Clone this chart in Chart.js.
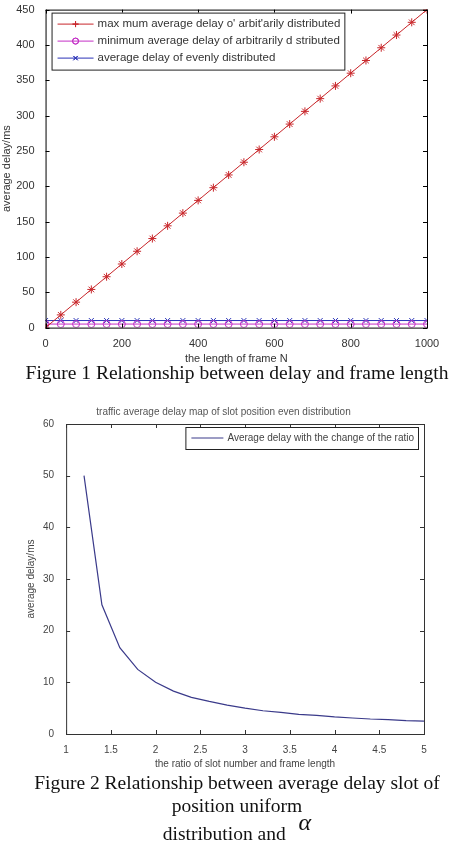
<!DOCTYPE html><html><head><meta charset="utf-8">
<script src="https://cdn.jsdelivr.net/npm/chart.js@4"></script>
<style>
body{margin:0;background:#fff;width:474px;height:848px;position:relative;overflow:hidden}
canvas{position:absolute;left:0}
.cap{position:absolute;left:0;width:474px;text-align:center;font-family:"Liberation Serif",serif;font-size:19.5px;color:#111;line-height:23px}
</style></head><body>
<canvas id="c1" style="top:0"></canvas>
<div class="cap" style="top:361px;white-space:nowrap">Figure 1 Relationship between delay and frame length</div>
<canvas id="c2" style="top:398px"></canvas>
<div class="cap" style="top:771px">Figure 2 Relationship between average delay slot of<br>position uniform<br><span style="position:relative;top:4px">distribution and <i style="position:relative;top:-10px;font-size:24px;margin-left:8px">α</i></span></div>
<script>
const frameN=[0,40,80,120,160,200,240,280,320,360,400,440,480,520,560,600,640,680,720,760,800,840,880,920,960,1000];
const maxDelay=[0,18,36,54,72,90,108,126,144,162,180,198,216,234,252,270,288,306,324,342,360,378,396,414,432,450];
const minDelay=[5,5,5,5,5,5,5,5,5,5,5,5,5,5,5,5,5,5,5,5,5,5,5,5,5,5];
const evenDelay=[10,10,10,10,10,10,10,10,10,10,10,10,10,10,10,10,10,10,10,10,10,10,10,10,10,10];
const ratio=[1.2,1.4,1.6,1.8,2.0,2.2,2.4,2.6,2.8,3.0,3.2,3.4,3.6,3.8,4.0,4.2,4.4,4.6,4.8,5.0];
const ratioDelay=[50,25,16.7,12.5,10,8.3,7.1,6.3,5.6,5.0,4.5,4.2,3.8,3.6,3.3,3.1,2.9,2.8,2.6,2.5];
const seriesLabels1=["max mum average delay o' arbit'arily distributed","minimum average delay of arbitrarily d stributed","average delay of evenly distributed"];
const seriesLabel2="Average delay with the change of the ratio";
const F="'Liberation Sans', Arial, sans-serif";
const plainTick=v=>String(v);

const boxPlugin={id:'box',afterDraw(ch,a,o){
  const c=ch.ctx,A=ch.chartArea;c.save();c.strokeStyle=o.color||'#000';c.lineWidth=1;
  c.strokeRect(A.left+.5,A.top+.5,A.right-A.left,A.bottom-A.top);
  const x=ch.scales.x,y=ch.scales.y;
  x.ticks.forEach((t,i)=>{const p=Math.round(x.getPixelForTick(i))+.5;c.beginPath();c.moveTo(p,A.bottom);c.lineTo(p,A.bottom-4);c.moveTo(p,A.top);c.lineTo(p,A.top+4);c.stroke();});
  y.ticks.forEach((t,i)=>{const p=Math.round(y.getPixelForTick(i))+.5;c.beginPath();c.moveTo(A.left,p);c.lineTo(A.left+4,p);c.moveTo(A.right,p);c.lineTo(A.right-4,p);c.stroke();});
  const L=o.legend;if(L){c.font=L.font;const ds=ch.data.datasets;let w=0;ds.forEach(d=>w=Math.max(w,c.measureText(d.label).width));
    const bw=w+L.line+14,bh=ds.length*L.row+6;const bx=L.right?A.right-L.dx-bw:A.left+L.dx,by=A.top+L.dy;
    c.fillStyle='#fff';c.fillRect(bx,by,bw,bh);c.strokeStyle='#222';c.strokeRect(bx+.5,by+.5,bw,bh);
    ds.forEach((d,i)=>{const yy=by+3+L.row*(i+.5);c.strokeStyle=d.borderColor;c.lineWidth=1;c.beginPath();c.moveTo(bx+6,yy);c.lineTo(bx+6+L.line,yy);c.stroke();
      if(d.pointRadius>0){c.fillStyle='rgba(0,0,0,0)';c.strokeStyle=d.borderColor;Chart.helpers.drawPoint(c,{pointStyle:d.legendStyle||d.pointStyle,radius:3,borderWidth:1},bx+6+L.line/2,yy);c.stroke();}
      c.fillStyle=L.color;c.textBaseline='middle';c.fillText(d.label,bx+10+L.line,yy);});}
  c.restore();}};

function mkCanvas(id,w,h){const cv=document.getElementById(id);cv.width=w;cv.height=h;cv.style.width=w+'px';cv.style.height=h+'px';return cv;}

new Chart(mkCanvas('c1',474,366),{type:'line',
 data:{labels:frameN,datasets:[
  {label:seriesLabels1[0],data:maxDelay,borderColor:'#c8262a',pointStyle:'star',legendStyle:'cross',pointRadius:4,pointBorderColor:'#c8262a',borderWidth:1},
  {label:seriesLabels1[1],data:minDelay,borderColor:'#c42fc6',pointStyle:'circle',pointRadius:3.5,pointBorderColor:'#c42fc6',pointBackgroundColor:'rgba(0,0,0,0)',backgroundColor:'rgba(0,0,0,0)',borderWidth:1},
  {label:seriesLabels1[2],data:evenDelay,borderColor:'#2a32b8',pointStyle:'crossRot',pointRadius:3.5,pointBorderColor:'#2a32b8',borderWidth:1}]},
 options:{responsive:false,animation:false,layout:{padding:{top:5,right:47,left:0,bottom:0}},
  plugins:{legend:{display:false},tooltip:{enabled:false},box:{legend:{font:"11.5px "+F,line:36,row:17,dx:6,dy:3,color:'#333'}}},
  scales:{x:{type:'linear',min:0,max:1000,ticks:{stepSize:200,callback:plainTick,color:'#333',font:{family:F,size:11},padding:2,maxRotation:0},grid:{display:false},border:{display:false},
     title:{display:true,text:'the length of frame N',color:'#333',font:{family:F,size:11},padding:0}},
   y:{min:0,max:450,ticks:{stepSize:50,callback:plainTick,color:'#333',font:{family:F,size:11},padding:3},grid:{display:false},border:{display:false},
     title:{display:true,text:'average delay/ms',color:'#333',font:{family:F,size:11},padding:0}}}},
 plugins:[boxPlugin]});

new Chart(mkCanvas('c2',474,372),{type:'line',
 data:{labels:ratio,datasets:[{label:seriesLabel2,data:ratioDelay,borderColor:'#3a3a8a',pointRadius:0,borderWidth:1.2}]},
 options:{responsive:false,animation:false,layout:{padding:{top:0,right:50,left:23,bottom:0}},
  plugins:{legend:{display:false},tooltip:{enabled:false},
   title:{display:true,text:'traffic average delay map of slot position even distribution',color:'#555',font:{family:F,size:10,weight:'normal'},padding:{top:8,bottom:6}},
   box:{color:'#333',legend:{font:"10px "+F,line:32,row:16,dx:6,dy:3,right:true,color:'#444'}}},
  scales:{x:{type:'linear',min:1,max:5,ticks:{stepSize:0.5,callback:plainTick,color:'#444',font:{family:F,size:10},padding:2,maxRotation:0},grid:{display:false},border:{display:false},
     title:{display:true,text:'the ratio of slot number and frame length',color:'#444',font:{family:F,size:10},padding:0}},
   y:{min:0,max:60,ticks:{stepSize:10,callback:plainTick,color:'#444',font:{family:F,size:10},padding:4},grid:{display:false},border:{display:false},
     title:{display:true,text:'average delay/ms',color:'#444',font:{family:F,size:10},padding:2}}}},
 plugins:[boxPlugin]});
</script></body></html>
